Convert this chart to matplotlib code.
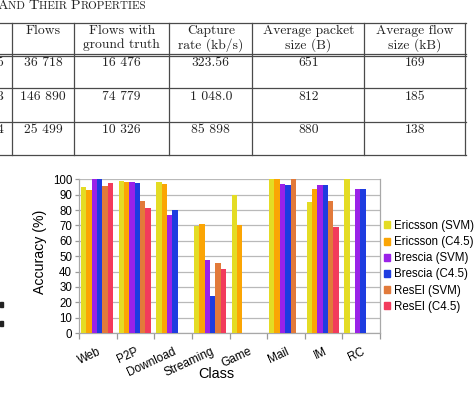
import numpy as np
import matplotlib
matplotlib.use("Agg")
import matplotlib.pyplot as plt
from matplotlib.lines import Line2D
from matplotlib.patches import Patch, Rectangle

W, H = 474, 399

# table data (cut from the page above the chart)
table_headers = ["Flows", "Flows with\nground truth", "Capture\nrate (kb/s)",
                 "Average packet\nsize (B)", "Average flow\nsize (kB)"]
table_rows = [
    ["36 718", "16 476", "323.56", "651", "169"],
    ["146 890", "74 779", "1 048.0", "812", "185"],
    ["25 499", "10 326", "85 898", "880", "138"],
]
row_stubs = ["5", "3", "4"]

# chart data
classes = ["Web", "P2P", "Download", "Streaming", "Game", "Mail", "IM", "RC"]
series_names = ["Ericsson (SVM)", "Ericsson (C4.5)", "Brescia (SVM)",
                "Brescia (C4.5)", "ResEl (SVM)", "ResEl (C4.5)"]
ericsson_svm = [95, 99, 98, 69.5, 90, 100, 85, 100]
ericsson_c45 = [93, 98.4, 96.7, 71, 70, 100, 93.5, np.nan]
brescia_svm = [100, 98.4, 76.7, 47.5, np.nan, 97, 96, 94]
brescia_c45 = [100, 97.3, 80, 24, np.nan, 96.3, 96.5, 94]
resel_svm = [95.6, 86.2, np.nan, 45.5, np.nan, 100, 85.7, np.nan]
resel_c45 = [97.7, 81.2, np.nan, 41.7, np.nan, np.nan, 68.7, np.nan]
all_series = [ericsson_svm, ericsson_c45, brescia_svm, brescia_c45, resel_svm, resel_c45]
colors = ["#E4DC24", "#FBA504", "#9A22E8", "#1E3CE0", "#E27A3A", "#F23B5C"]


def fx(x):
    return x / W


def fy(y):
    return 1 - y / H


fig = plt.figure(figsize=(W / 100, H / 100), dpi=100)

# ---- table part ----
serif = "cmr10"
line_col = "#4a4a4a"


def hline(y, x0=0, x1=465.5):
    fig.add_artist(Line2D([fx(x0), fx(x1)], [fy(y), fy(y)], color=line_col, lw=0.9))


for y in [22.7, 54.0, 55.6, 88.3, 121.7, 155.0]:
    hline(y)
col_x = [12.3, 74, 169.3, 252.3, 364.3, 465]
for x in col_x:
    fig.add_artist(Line2D([fx(x), fx(x)], [fy(22.7), fy(155)], color=line_col, lw=0.9))

centers = [(col_x[i] + col_x[i + 1]) / 2 for i in range(5)]
for c, h in zip(centers, table_headers):
    fig.text(fx(c), fy(24.5), h, ha="center", va="top", fontsize=9.8,
             family=serif, linespacing=1.15, color="#222")
row_y = [62.5, 96.5, 129.5]
for ry, row, stub in zip(row_y, table_rows, row_stubs):
    for c, v in zip(centers, row):
        fig.text(fx(c), fy(ry), v, ha="center", va="center", fontsize=9.8,
                 family=serif, color="#222")
    # first column is cut off by the page edge
    fig.text(fx(3), fy(ry), stub, ha="right", va="center", fontsize=9.8,
             family=serif, color="#222")

# small caps title, cut at the left edge
pieces = [("A", 10.2), ("ND ", 8.0), ("T", 10.2), ("HEIR ", 8.0), ("P", 10.2), ("ROPERTIES", 8.0)]
renderer = fig.canvas.get_renderer()
x = -2.5
for s, size in pieces:
    t = fig.text(fx(x), fy(9), s, ha="left", va="baseline", fontsize=size,
                 family=serif, color="#222")
    x += t.get_window_extent(renderer).width

# marks cut at the left edge
for yy in [301.5, 320.5]:
    fig.add_artist(Rectangle((fx(0), fy(yy + 5)), fx(2.8), 5 / H,
                             transform=fig.transFigure, color="#222"))

# ---- bar chart ----
ax = fig.add_axes([fx(79), fy(333), fx(380) - fx(79), fy(179.3) - fy(333)])
n = len(series_names)
bw = 0.142
pos = np.arange(len(classes)) + 0.48
for i, (vals, col) in enumerate(zip(all_series, colors)):
    ax.bar(pos + (i - (n - 1) / 2) * bw, vals, width=bw, color=col, zorder=3)

ax.set_xlim(0, len(classes))
ax.set_ylim(0, 100)
ax.set_yticks(np.arange(0, 101, 10))
ax.yaxis.grid(True, color="#b9b9b9", lw=0.9, zorder=0)
ax.set_xticks(np.arange(len(classes) + 1))
ax.set_xticklabels([])
ax.set_xticks(np.arange(len(classes)) + 0.5, minor=True)
ax.set_xticklabels(classes, minor=True, rotation=25, ha="right",
                   rotation_mode="anchor", fontsize=8.5, family="Liberation Sans")
ax.tick_params(axis="x", which="minor", length=0, pad=9)
ax.tick_params(axis="x", which="major", length=4, color="#999", width=0.9)
ax.tick_params(axis="y", length=3, color="#999", width=0.9, pad=2, labelsize=8.3)
for lab in ax.get_yticklabels():
    lab.set_family("Liberation Sans")
ax.spines["top"].set_visible(False)
for s in ["left", "bottom", "right"]:
    ax.spines[s].set_color("#a8a8a8")
    ax.spines[s].set_linewidth(0.9)

fig.text(fx(216), fy(374), "Class", ha="center", va="center", fontsize=10.4,
         family="Liberation Sans")
fig.text(fx(40), fy(252), "Accuracy (%)", ha="center", va="center", fontsize=10.2,
         rotation=90, family="Liberation Sans")

handles = [Patch(color=c) for c in colors]
fig.legend(handles, series_names, loc="upper left", bbox_to_anchor=(fx(384), fy(220)),
           frameon=False, borderpad=0, borderaxespad=0, handlelength=0.55,
           handleheight=0.55, handletextpad=0.3, labelspacing=0.36,
           prop={"family": "Liberation Sans", "size": 8.3})

fig.savefig("out.png", dpi=100)
